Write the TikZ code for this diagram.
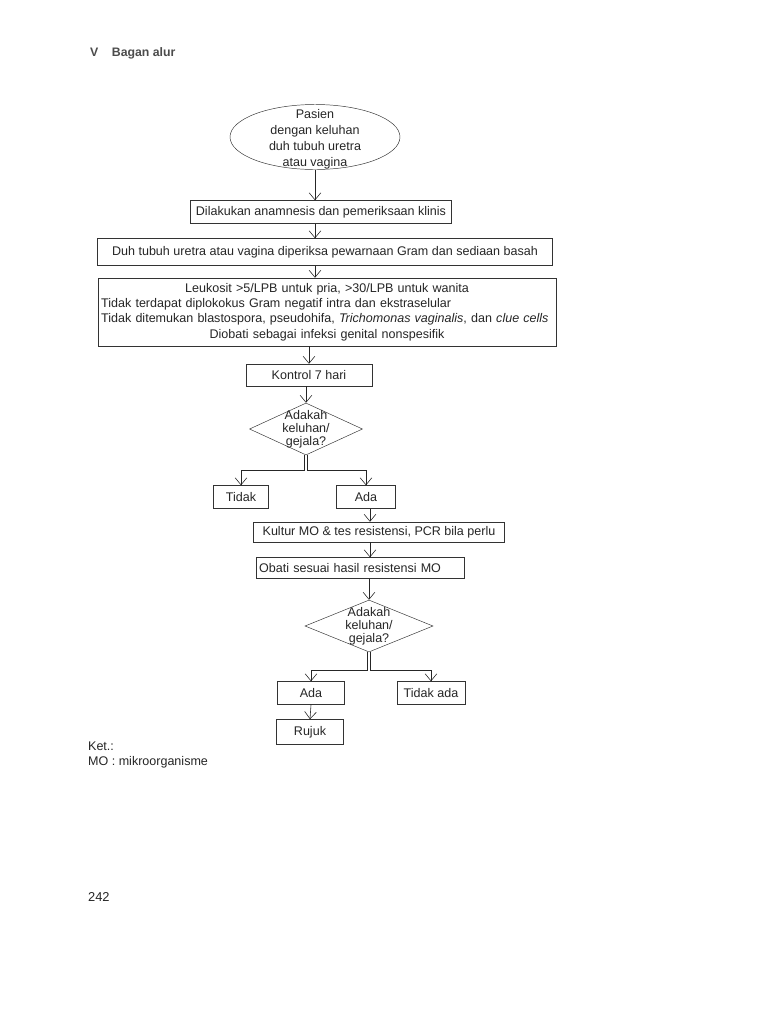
\documentclass[tikz,border=0pt]{standalone}
\usepackage{fontspec}
\setmainfont{Liberation Sans}
\usetikzlibrary{positioning,shapes.geometric,arrows.meta}

\begin{document}
\begin{tikzpicture}[
		x=0.03cm, y=-0.03cm,
		every node/.style={font=\fontsize{10.7}{13}\selectfont, text=black!85},
		box/.style={draw=black!80, rectangle, inner sep=0pt},
		ask/.style={draw=black!80, diamond, inner sep=0pt, minimum width=#1, minimum height=1.56cm},
		flow/.style={draw=black!85, line width=0.5pt, -{Straight Barb[length=6pt,width=10pt]}},
		line/.style={draw=black!80}
	]
	\useasboundingbox[fill=white] (0,0) rectangle (768,1024);

	% page furniture
	\node[anchor=west, font=\fontsize{10.5}{12}\selectfont\bfseries, text=black!70] (chap) at (86,53) {V\hspace{1.1em}Bagan alur};
	\node[anchor=west] (ket) at (84,746) {Ket.:};
	\node[anchor=west] (mo) at (84,762) {MO : mikroorganisme};
	\node[anchor=west, font=\fontsize{11}{13}\selectfont] (page) at (84,897) {242};

	% flow
	\node[draw=black!80, ellipse, inner sep=0pt, minimum width=5.1cm, minimum height=1.95cm,
		label={[align=center, font=\fontsize{10.7}{13.8}\selectfont, text=black!85, yshift=-2pt]center:Pasien\\dengan keluhan\\duh tubuh uretra\\atau vagina}] (start) at (315,137) {};
	\node[box, minimum width=7.83cm, minimum height=0.69cm] (exam) at (321,212) {Dilakukan anamnesis dan pemeriksaan klinis};
	\node[box, minimum width=13.65cm, minimum height=0.81cm] (gram) at (325,252) {Duh tubuh uretra atau vagina diperiksa pewarnaan Gram dan sediaan basah};
	\node[box, minimum width=13.74cm, minimum height=2.04cm, text width=13.55cm] (result) at (327,312) {%
		{\centering Leukosit >5/LPB untuk pria, >30/LPB untuk wanita\par}%
		{\raggedright Tidak terdapat diplokokus Gram negatif intra dan ekstraselular\par
		Tidak ditemukan blastospora, pseudohifa, \textit{Trichomonas vaginalis}, dan \textit{clue cells}\par}%
		{\centering Diobati sebagai infeksi genital nonspesifik\par}};
	\node[box, minimum width=3.78cm, minimum height=0.66cm] (ctrl) at (309,375) {Kontrol 7 hari};
	\node[ask=3.39cm, label={[align=center, font=\fontsize{10.7}{11.3}\selectfont, text=black!85]center:Adakah\\keluhan/\\gejala?}] (askA) at (306,429) {};
	\node[box, minimum width=1.65cm, minimum height=0.69cm] (noA) at (241,497) {Tidak};
	\node[box, minimum width=1.77cm, minimum height=0.69cm] (yesA) at (366,497) {Ada};
	\node[box, minimum width=7.53cm, minimum height=0.6cm] (cult) at (379,532) {Kultur MO \& tes resistensi, PCR bila perlu};
	\node[box, minimum width=6.24cm, minimum height=0.63cm, text width=6.05cm] (treat) at (360,568) {Obati sesuai hasil resistensi MO};
	\node[ask=3.84cm, label={[align=center, font=\fontsize{10.7}{11.3}\selectfont, text=black!85]center:Adakah\\keluhan/\\gejala?}] (askB) at (369,626) {};
	\node[box, minimum width=2.01cm, minimum height=0.69cm] (yesB) at (311,693) {Ada};
	\node[box, minimum width=2.04cm, minimum height=0.69cm] (noB) at (431,693) {Tidak ada};
	\node[box, minimum width=2.01cm, minimum height=0.75cm] (refer) at (310,732) {Rujuk};

	% arrows
	\draw[flow] (start.south) -- (start.south |- exam.north);
	\draw[flow] (start.south |- exam.south) -- (start.south |- gram.north);
	\draw[flow] (start.south |- gram.south) -- (start.south |- result.north);
	\draw[flow] (ctrl.north |- result.south) -- (ctrl.north);
	\draw[flow] (ctrl.south -| askA.north) -- (askA.north);
	\draw[flow] ([xshift=-1.5pt]askA.south) -- ++(0,15) -| (noA.north);
	\draw[flow] ([xshift=1.5pt]askA.south) -- ++(0,15) -| (yesA.north);
	\draw[flow] (yesA.south -| 370,0) -- (cult.north -| 370,0);
	\draw[flow] (cult.south -| 370,0) -- (treat.north -| 370,0);
	\draw[flow] (treat.south -| askB.north) -- (askB.north);
	\draw[flow] ([xshift=-1.5pt]askB.south) -- ++(0,18) -| (yesB.north);
	\draw[flow] ([xshift=1.5pt]askB.south) -- ++(0,18) -| (noB.north);
	\draw[flow] (yesB.south) -- (refer.north);
\end{tikzpicture}
\end{document}
